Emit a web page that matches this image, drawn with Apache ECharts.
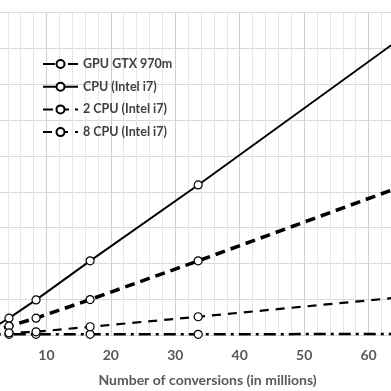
<!DOCTYPE html>
<html>
<head>
<meta charset="utf-8">
<script src="https://cdn.jsdelivr.net/npm/echarts@6/dist/echarts.min.js"></script>
<style>
  html, body { margin: 0; padding: 0; background: #fff; }
  #chart { width: 391px; height: 391px; }
</style>
</head>
<body>
<div id="chart"></div>
<script>
// conversions in millions
const conversions = [1.05, 2.1, 4.19, 8.39, 16.78, 33.55, 67.11];

// time values (y units, one per gridline)
const gpuGtx970m = [0.02, 0.02, 0.02, 0.02, 0.02, 0.02, 0.03];
const cpuI7 = [0.12, 0.24, 0.47, 0.98, 2.07, 4.19, 8.56];
const cpu2I7 = [0.06, 0.12, 0.25, 0.47, 0.99, 2.07, 4.28];
const cpu8I7 = [0.03, 0.04, 0.06, 0.09, 0.23, 0.51, 1.09];

const seriesNames = ['GPU GTX 970m', 'CPU (Intel i7)', '2 CPU (Intel i7)', '8 CPU (Intel i7)'];

function pairs(ys) {
  return conversions.map(function (x, i) { return [x, ys[i]]; });
}

const chart = echarts.init(document.getElementById('chart'));

function lineSeries(name, ys, width, type) {
  return {
    name: name,
    type: 'line',
    data: pairs(ys),
    symbol: 'circle',
    symbolSize: 8,
    showSymbol: true,
    itemStyle: { color: '#fff', borderColor: '#000', borderWidth: 1.2 },
    lineStyle: { color: '#000', width: width, type: type },
    animation: false
  };
}

chart.setOption({
  backgroundColor: '#fff',
  legend: {
    orient: 'vertical',
    left: 37,
    top: 50,
    itemWidth: 35,
    itemHeight: 10,
    itemGap: 4.7,
    textStyle: { color: '#404040', fontSize: 12.5, fontFamily: 'Lato', fontWeight: 'bold', lineHeight: 18 },
    data: seriesNames
  },
  grid: { left: -18, right: -42, top: 12.7, bottom: 56, outerBoundsMode: 'none', containLabel: false },
  xAxis: {
    type: 'value',
    min: 0,
    max: 70,
    interval: 10,
    name: 'Number of conversions (in millions)',
    nameLocation: 'middle',
    nameGap: 38,
    nameTextStyle: { color: '#595959', fontSize: 14, fontFamily: 'Lato', fontWeight: 'bold' },
    axisLine: { lineStyle: { color: '#d9d9d9' } },
    axisTick: { show: false },
    axisLabel: { color: '#595959', fontSize: 14, fontFamily: 'Lato', fontWeight: 'bold', margin: 13 },
    splitLine: { show: true, lineStyle: { color: '#d0d0d0', width: 1 } },
    minorTick: { show: false, splitNumber: 5 },
    minorSplitLine: { show: true, lineStyle: { color: '#e6e6e6', width: 1 } }
  },
  yAxis: {
    type: 'value',
    min: 0,
    max: 9,
    interval: 1,
    axisLine: { show: false },
    axisTick: { show: false },
    axisLabel: { show: false },
    splitLine: { show: true, lineStyle: { color: '#d9d9d9', width: 1 } }
  },
  series: [
    lineSeries(seriesNames[0], gpuGtx970m, 2.5, [12, 5, 3, 5]),
    lineSeries(seriesNames[1], cpuI7, 2, 'solid'),
    lineSeries(seriesNames[2], cpu2I7, 3.5, [10, 6]),
    lineSeries(seriesNames[3], cpu8I7, 2.2, [9, 7])
  ]
});
</script>
</body>
</html>
